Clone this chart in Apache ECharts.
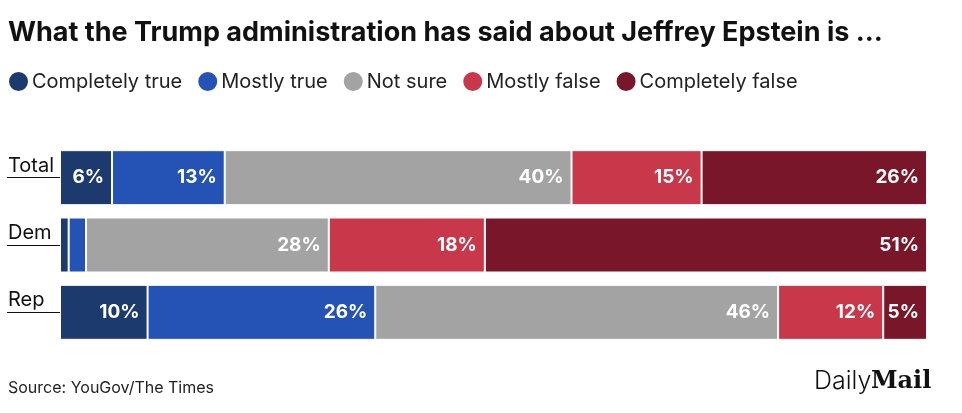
<!DOCTYPE html>
<html>
<head>
<meta charset="utf-8">
<script src="https://cdn.jsdelivr.net/npm/echarts@6/dist/echarts.min.js"></script>
<style>
  html, body { margin: 0; padding: 0; background: #fff; }
  #chart { width: 962px; height: 413px; }
</style>
</head>
<body>
<div id="chart"></div>
<script>
// groups, top to bottom
var groups = ['Total', 'Dem', 'Rep'];
var answers = ['Completely true', 'Mostly true', 'Not sure', 'Mostly false', 'Completely false'];
var colors = ['#1d3a6e', '#2452b5', '#a3a3a3', '#c8374a', '#7a1629'];

// percent per answer, one value per group
var completelyTrue = [6, 1, 10];
var mostlyTrue = [13, 2, 26];
var notSure = [40, 28, 46];
var mostlyFalse = [15, 18, 12];
var completelyFalse = [26, 51, 5];

var values = [completelyTrue, mostlyTrue, notSure, mostlyFalse, completelyFalse];

// each bar is drawn filled to 100 (rounding makes Rep sum to 99)
var sums = groups.map(function (g, i) {
    return values.reduce(function (s, arr) { return s + arr[i]; }, 0);
});

var font = 'Inter, "Noto Sans", sans-serif';

var series = answers.map(function (name, k) {
    return {
        name: name,
        type: 'bar',
        stack: 'all',
        barWidth: 55,
        itemStyle: { color: colors[k], borderColor: '#fff', borderWidth: 1 },
        label: {
            show: true,
            position: 'insideRight',
            distance: 8,
            color: '#fff',
            fontFamily: font,
            fontWeight: 'bold',
            fontSize: 19,
            formatter: function (p) { return values[k][p.dataIndex] + '%'; }
        },
        data: values[k].map(function (v, i) {
            var item = { value: v / sums[i] * 100 };
            if (v < 4) item.label = { show: false };
            return item;
        })
    };
});

var myChart = echarts.init(document.getElementById('chart'));
var option = {
    animation: false,
    title: {
        text: 'What the Trump administration has said about Jeffrey Epstein is \u2026',
        left: 8,
        top: 19,
        padding: 0,
        textStyle: { fontFamily: font, fontSize: 27, fontWeight: 'bold', color: '#111' }
    },
    legend: {
        data: answers,
        left: 7,
        top: 70,
        padding: 0,
        icon: 'circle',
        itemWidth: 21,
        itemHeight: 21,
        itemGap: 14,
        textStyle: { fontFamily: font, fontSize: 20, color: '#222', padding: [0, 0, 0, -2] }
    },
    grid: { left: 60, right: 35, top: 144, height: 202 },
    xAxis: { type: 'value', min: 0, max: 100, show: false },
    yAxis: {
        type: 'category',
        data: groups,
        inverse: true,
        axisLine: { show: false },
        axisTick: { show: true, alignWithLabel: true, length: 53, lineStyle: { color: '#111', width: 1 } },
        axisLabel: {
            margin: 52,
            align: 'left',
            verticalAlign: 'bottom',
            padding: [0, 0, 2, 0],
            fontFamily: font,
            fontSize: 20,
            color: '#111'
        }
    },
    graphic: [
        {
            type: 'text', left: 8, top: 380,
            style: { text: 'Source: YouGov/The Times', fontFamily: font, fontSize: 16, fill: '#222' }
        },
        {
            type: 'text', left: 814, top: 369,
            style: { text: 'Daily', fontFamily: font, fontWeight: 300, fontSize: 25, fill: '#111' }
        },
        {
            type: 'text', left: 871, top: 370,
            style: { text: 'Mail', fontFamily: '"DejaVu Serif", serif', fontWeight: 'bold', fontSize: 24, fill: '#111' }
        }
    ],
    series: series
};
myChart.setOption(option);
window.addEventListener('resize', function () { myChart.resize(); });
</script>
</body>
</html>
